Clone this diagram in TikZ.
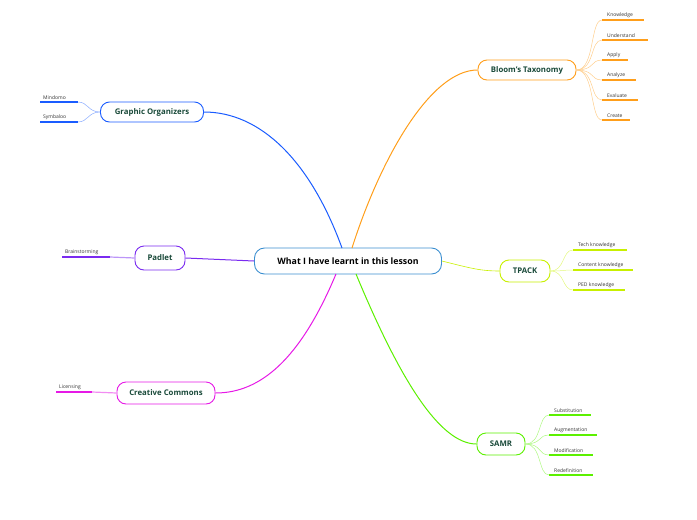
\documentclass[tikz,border=0pt]{standalone}
\usepackage{fontspec}
\setmainfont{Open Sans}
\begin{document}
\begin{tikzpicture}[x=1pt,y=-1pt,
 topic/.style={draw=#1,line width=0.9pt,rounded corners=9pt,fill=white,text=tg,font=\fontsize{7.8}{9}\selectfont\bfseries,minimum height=20pt,inner xsep=6pt},
 leaf/.style={font=\fontsize{5}{6}\selectfont,text=black!80,anchor=south west,inner xsep=1pt,inner ysep=2pt},
 conn/.style={draw=#1,line width=1pt},
 sub/.style={draw=#1!50,line width=0.5pt},
 uline/.style={draw=#1,line width=1.3pt}]
\definecolor{tg}{HTML}{1A4A3A}
\definecolor{cOr}{HTML}{FF9E1A}
\definecolor{cBl}{HTML}{1A5CFF}
\definecolor{cPu}{HTML}{7A2BF0}
\definecolor{cMa}{HTML}{E619E6}
\definecolor{cYe}{HTML}{C8F000}
\definecolor{cGr}{HTML}{5CF000}
\definecolor{cCe}{HTML}{3C8FD0}
\useasboundingbox (0,0) rectangle (697,520);
% main
\node[draw=cCe,line width=0.9pt,rounded corners=10pt,minimum width=187pt,minimum height=26pt,font=\fontsize{8.8}{10}\selectfont\bfseries] (c) at (348,261) {What I have learnt in this lesson};
\node[topic=cOr,minimum width=98pt] (bl) at (527,70) {Bloom's Taxonomy};
\node[topic=cBl,minimum width=103pt] (go) at (152,112) {Graphic Organizers};
\node[topic=cPu,minimum width=50pt,minimum height=24pt] (pa) at (160,258) {Padlet};
\node[topic=cMa,minimum width=98pt,minimum height=22pt] (cc) at (166,393) {Creative Commons};
\node[topic=cYe,minimum width=50pt,minimum height=22pt] (tp) at (525,271) {TPACK};
\node[topic=cGr,minimum width=48pt,minimum height=22pt] (sa) at (501,444) {SAMR};
\coordinate (ct1) at (342,248);
\coordinate (ct2) at (352,248);
\coordinate (cb1) at (336,274);
\coordinate (cb2) at (356,274);
\draw[conn=cBl] (ct1) .. controls (310,160) and (260,112) .. (go.east);
\draw[conn=cOr] (ct2) .. controls (380,160) and (430,70) .. (bl.west);
\draw[conn=cPu] (c.west) -- (pa.east);
\draw[conn=cMa] (cb1) .. controls (300,360) and (260,393) .. (cc.east);
\draw[conn=cGr] (cb2) .. controls (400,380) and (440,444) .. (sa.west);
\draw[conn=cYe,line width=0.6pt] (c.east) .. controls (470,268) and (480,271) .. (tp.west);
% Bloom leaves
\foreach \t/\y/\w [count=\i] in {Knowledge/20/42,Understand/40/46,Apply/60/26,Analyze/80/34,Evaluate/100/36,Create/120/28}{
 \coordinate (bu\i) at (602,\y);
 \draw[sub=cOr] (bl.east) .. controls (595,70) and (590,\y) .. (bu\i);
 \draw[uline=cOr] (bu\i) -- ++(\w,0);
 \node[leaf] (bt\i) at (606,\y) {\t};
}
% Graphic organizer leaves
\foreach \t/\y [count=\i] in {Mindomo/102,Symbaloo/122}{
 \coordinate (gu\i) at (78,\y);
 \draw[sub=cBl] (go.west) .. controls (88,112) and (88,\y) .. (gu\i);
 \draw[uline=cBl] (gu\i) -- ++(-38,0);
 \node[leaf] (gt\i) at (42,\y) {\t};
}
% Padlet leaf
\coordinate (pu) at (110,257);
\draw[sub=cPu,line width=1.2pt] (pa.west) -- (pu);
\draw[uline=cPu] (pu) -- ++(-48,0);
\node[leaf] (pt) at (64,257) {Brainstorming};
% CC leaf
\coordinate (cu) at (92,392);
\draw[sub=cMa,line width=1.2pt] (cc.west) -- (cu);
\draw[uline=cMa] (cu) -- ++(-36,0);
\node[leaf] (ctx) at (58,392) {Licensing};
% TPACK leaves
\foreach \t/\y/\w [count=\i] in {Tech knowledge/250/54,Content knowledge/270/60,PED knowledge/290/52}{
 \coordinate (tu\i) at (573,\y);
 \draw[sub=cYe] (tp.east) .. controls (565,271) and (562,\y) .. (tu\i);
 \draw[uline=cYe] (tu\i) -- ++(\w,0);
 \node[leaf] (tt\i) at (577,\y) {\t};
}
% SAMR leaves
\foreach \t/\y/\w [count=\i] in {Substitution/415/42,Augmentation/435/48,Modification/455/44,Redefinition/475/44}{
 \coordinate (su\i) at (549,\y);
 \draw[sub=cGr] (sa.east) .. controls (542,444) and (538,\y) .. (su\i);
 \draw[uline=cGr] (su\i) -- ++(\w,0);
 \node[leaf] (st\i) at (553,\y) {\t};
}
\end{tikzpicture}
\end{document}
